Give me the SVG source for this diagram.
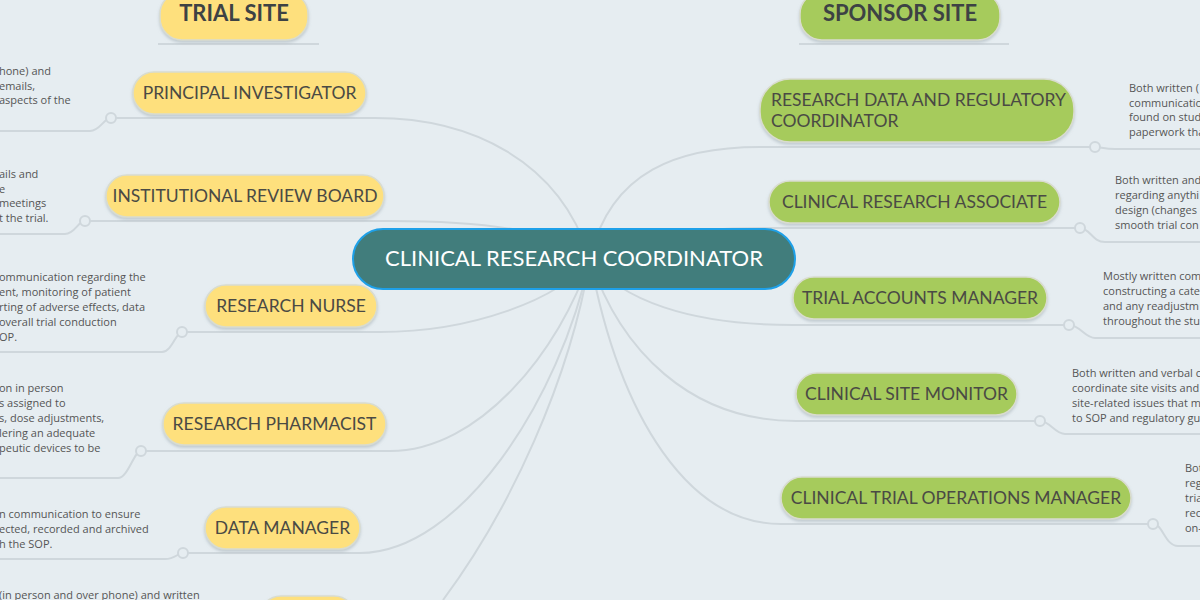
<svg xmlns="http://www.w3.org/2000/svg" width="1200" height="600" viewBox="0 0 1200 600">
<style>
.c{fill:none;stroke:#cfd7dc;stroke-width:2}
.dot{fill:#e6edf1;stroke:#cfd7dc;stroke-width:2}
.y{fill:#fee07d;stroke:#d9dccf;stroke-width:1.5}
.g{fill:#a6cb5b;stroke:#d9dccf;stroke-width:1.5}
.t{font-family:Lato,"Noto Sans",sans-serif;font-size:17.5px;fill:#4a4a44;text-anchor:middle}
.h{font-family:Lato,"Noto Sans",sans-serif;font-size:22px;font-weight:bold;fill:#3d4244;text-anchor:middle}
.d{font-family:"Open Sans","Noto Sans",sans-serif;font-size:11px;fill:#555}
</style>
<defs><filter id="sh" x="-10%" y="-20%" width="120%" height="150%"><feDropShadow dx="0" dy="2" stdDeviation="1.5" flood-color="#9aa6ad" flood-opacity="0.5"/></filter></defs>
<rect width="1200" height="600" fill="#e6edf1"/>
<g id="connectors">
<path class="c" d="M158,44H319M799,44H1009"/>
<path class="c" d="M0,131H90C100,131 104,118 111,118H375C470,118 560,160 590,259"/>
<path class="c" d="M0,234H65C75,234 78,221 85,221H390C480,221 560,230 590,259"/>
<path class="c" d="M0,352H162C172,352 176,332 182,332H380C470,332 560,300 590,259"/>
<path class="c" d="M0,478H118C128,478 134,451 141,451H390C480,451 560,350 590,259"/>
<path class="c" d="M0,559H165C175,559 178,553 183,553H360C460,553 560,400 590,259"/>
<path class="c" d="M443,600C510,510 570,380 590,259"/>
<path class="c" d="M590,259C610,170 680,147 760,147H1095C1100,147 1105,149 1115,149H1200"/>
<path class="c" d="M590,259C620,235 690,228 769,228H1080C1090,228 1092,242 1105,242H1200"/>
<path class="c" d="M590,259C620,300 690,325 793,325H1069C1080,325 1085,338 1095,338H1200"/>
<path class="c" d="M590,259C620,350 690,421 796,421H1040C1050,421 1055,434 1065,434H1200"/>
<path class="c" d="M590,259C620,420 690,524 781,524H1153C1163,524 1165,546 1178,546H1200"/>
<circle class="dot" cx="111" cy="118" r="5"/><circle class="dot" cx="85" cy="221" r="5"/>
<circle class="dot" cx="182" cy="332" r="5"/><circle class="dot" cx="141" cy="451" r="5"/>
<circle class="dot" cx="183" cy="553" r="5"/>
<circle class="dot" cx="1095" cy="147" r="5"/><circle class="dot" cx="1080" cy="228" r="5"/>
<circle class="dot" cx="1069" cy="325" r="5"/><circle class="dot" cx="1040" cy="421" r="5"/>
<circle class="dot" cx="1153" cy="524" r="5"/>
</g>
<g id="trial-site"><rect class="y" filter="url(#sh)" x="160" y="-8" width="148" height="48" rx="22"/><text class="h" x="234" y="21">TRIAL SITE</text></g>
<g id="sponsor-site"><rect class="g" filter="url(#sh)" x="800" y="-8" width="200" height="48" rx="22"/><text class="h" x="900" y="21">SPONSOR SITE</text></g>
<g id="center"><rect x="353" y="229" width="442" height="60" rx="30" fill="#417d7c" stroke="#1ea0e8" stroke-width="2"/><text x="574" y="266" font-family="Lato,'Noto Sans',sans-serif" font-size="22" fill="#fff" text-anchor="middle">CLINICAL RESEARCH COORDINATOR</text></g>
<g id="pi"><rect class="y" filter="url(#sh)" x="133" y="72" width="233" height="42" rx="21"/><text class="t" x="249.5" y="99">PRINCIPAL INVESTIGATOR</text>
<text class="d"><tspan x="-1" y="75">hone) and</tspan><tspan x="-1" y="90">emails,</tspan><tspan x="-1" y="104">aspects of the</tspan></text></g>
<g id="irb"><rect class="y" filter="url(#sh)" x="106" y="175" width="278" height="42" rx="21"/><text class="t" x="245" y="202">INSTITUTIONAL REVIEW BOARD</text>
<text class="d"><tspan x="-1" y="178">ails and</tspan><tspan x="-1" y="193">e</tspan><tspan x="-1" y="207">meetings</tspan><tspan x="-1" y="222">t the trial.</tspan></text></g>
<g id="rn"><rect class="y" filter="url(#sh)" x="205" y="285" width="172" height="42" rx="21"/><text class="t" x="291" y="312">RESEARCH NURSE</text>
<text class="d"><tspan x="-1" y="281">ommunication regarding the</tspan><tspan x="-1" y="296">ent, monitoring of patient</tspan><tspan x="-1" y="311">rting of adverse effects, data</tspan><tspan x="-1" y="326">overall trial conduction</tspan><tspan x="-1" y="341">OP.</tspan></text></g>
<g id="rp"><rect class="y" filter="url(#sh)" x="163" y="403" width="223" height="42" rx="21"/><text class="t" x="274.5" y="430">RESEARCH PHARMACIST</text>
<text class="d"><tspan x="-1" y="392">on in person</tspan><tspan x="-1" y="407">s assigned to</tspan><tspan x="-1" y="422">s, dose adjustments,</tspan><tspan x="-1" y="437">lering an adequate</tspan><tspan x="-1" y="452">peutic devices to be</tspan></text></g>
<g id="dm"><rect class="y" filter="url(#sh)" x="205" y="507" width="155" height="42" rx="21"/><text class="t" x="282.5" y="534">DATA MANAGER</text>
<text class="d"><tspan x="-1" y="518">n communication to ensure</tspan><tspan x="-1" y="533">ected, recorded and archived</tspan><tspan x="-1" y="548">h the SOP.</tspan></text></g>
<g id="bottom"><rect class="y" filter="url(#sh)" x="260" y="596" width="95" height="42" rx="21"/>
<text class="d"><tspan x="-1" y="599">(in person and over phone) and written</tspan></text></g>
<g id="rdrc"><rect class="g" filter="url(#sh)" x="760" y="79" width="314" height="63" rx="30"/><text class="t" style="text-anchor:start" x="771" y="106">RESEARCH DATA AND REGULATORY</text><text class="t" style="text-anchor:start" x="771" y="127">COORDINATOR</text>
<text class="d"><tspan x="1129" y="92">Both written (</tspan><tspan x="1129" y="107">communicatio</tspan><tspan x="1129" y="121">found on stud</tspan><tspan x="1129" y="136">paperwork tha</tspan></text></g>
<g id="cra"><rect class="g" filter="url(#sh)" x="769" y="181" width="291" height="42" rx="21"/><text class="t" x="914.5" y="208">CLINICAL RESEARCH ASSOCIATE</text>
<text class="d"><tspan x="1115" y="184">Both written and</tspan><tspan x="1115" y="199">regarding anythi</tspan><tspan x="1115" y="214">design (changes</tspan><tspan x="1115" y="229">smooth trial con</tspan></text></g>
<g id="tam"><rect class="g" filter="url(#sh)" x="793" y="277" width="254" height="42" rx="21"/><text class="t" x="920" y="304">TRIAL ACCOUNTS MANAGER</text>
<text class="d"><tspan x="1103" y="280">Mostly written com</tspan><tspan x="1103" y="295">constructing a cate</tspan><tspan x="1103" y="310">and any readjustm</tspan><tspan x="1103" y="325">throughout the stu</tspan></text></g>
<g id="csm"><rect class="g" filter="url(#sh)" x="796" y="373" width="221" height="42" rx="21"/><text class="t" x="906.5" y="400">CLINICAL SITE MONITOR</text>
<text class="d"><tspan x="1072" y="377">Both written and verbal c</tspan><tspan x="1072" y="392">coordinate site visits and</tspan><tspan x="1072" y="407">site-related issues that m</tspan><tspan x="1072" y="422">to SOP and regulatory gu</tspan></text></g>
<g id="ctom"><rect class="g" filter="url(#sh)" x="781" y="477" width="350" height="42" rx="21"/><text class="t" x="956" y="504">CLINICAL TRIAL OPERATIONS MANAGER</text>
<text class="d"><tspan x="1185" y="472">Bot</tspan><tspan x="1185" y="487">reg</tspan><tspan x="1185" y="502">tria</tspan><tspan x="1185" y="517">rec</tspan><tspan x="1185" y="532">on-</tspan></text></g>
</svg>
